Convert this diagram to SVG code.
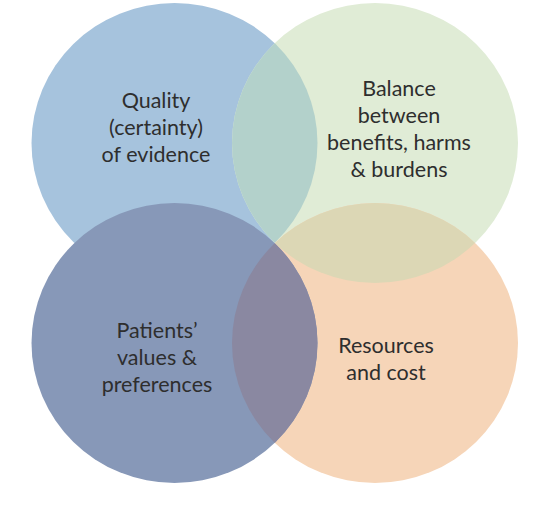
<svg xmlns="http://www.w3.org/2000/svg" width="542" height="510" viewBox="0 0 542 510">
<style>
.lbl{font-family:Lato,"Open Sans","Liberation Sans",sans-serif;font-size:21.5px;fill:#2e2e2e;text-anchor:middle}
</style>
<defs>
<clipPath id="cBlue"><ellipse cx="174.5" cy="143" rx="143" ry="140"/></clipPath>
<clipPath id="cGreen"><ellipse cx="375" cy="143" rx="143" ry="140"/></clipPath>
<clipPath id="cOrange"><ellipse cx="375" cy="343" rx="143" ry="140"/></clipPath>
</defs>
<rect width="542" height="510" fill="#ffffff"/>
<g id="quality">
<ellipse cx="174.5" cy="143" rx="143" ry="140" fill="#a6c3dd"/>
</g>
<g id="balance">
<ellipse cx="375" cy="143" rx="143" ry="140" fill="#e0ecd6"/>
</g>
<g id="resources">
<ellipse cx="375" cy="343" rx="143" ry="140" fill="#f6d5b8"/>
</g>
<g id="patients">
<ellipse cx="174.5" cy="343" rx="143" ry="140" fill="#8798b8"/>
</g>
<g id="overlaps">
<ellipse cx="375" cy="143" rx="143" ry="140" fill="#b3d1cb" clip-path="url(#cBlue)"/>
<ellipse cx="375" cy="343" rx="143" ry="140" fill="#dcd7b5" clip-path="url(#cGreen)"/>
<ellipse cx="174.5" cy="343" rx="143" ry="140" fill="#8a88a1" clip-path="url(#cOrange)"/>
</g>
<g id="labels">
<text class="lbl" x="156" y="108">Quality</text>
<text class="lbl" x="156" y="135">(certainty)</text>
<text class="lbl" x="156" y="162">of evidence</text>
<text class="lbl" x="399" y="96">Balance</text>
<text class="lbl" x="399" y="123">between</text>
<text class="lbl" x="399" y="150">benefits, harms</text>
<text class="lbl" x="399" y="177">&amp; burdens</text>
<text class="lbl" x="157" y="338">Patients’</text>
<text class="lbl" x="157" y="365">values &amp;</text>
<text class="lbl" x="157" y="392">preferences</text>
<text class="lbl" x="386" y="353">Resources</text>
<text class="lbl" x="386" y="380">and cost</text>
</g>
</svg>
